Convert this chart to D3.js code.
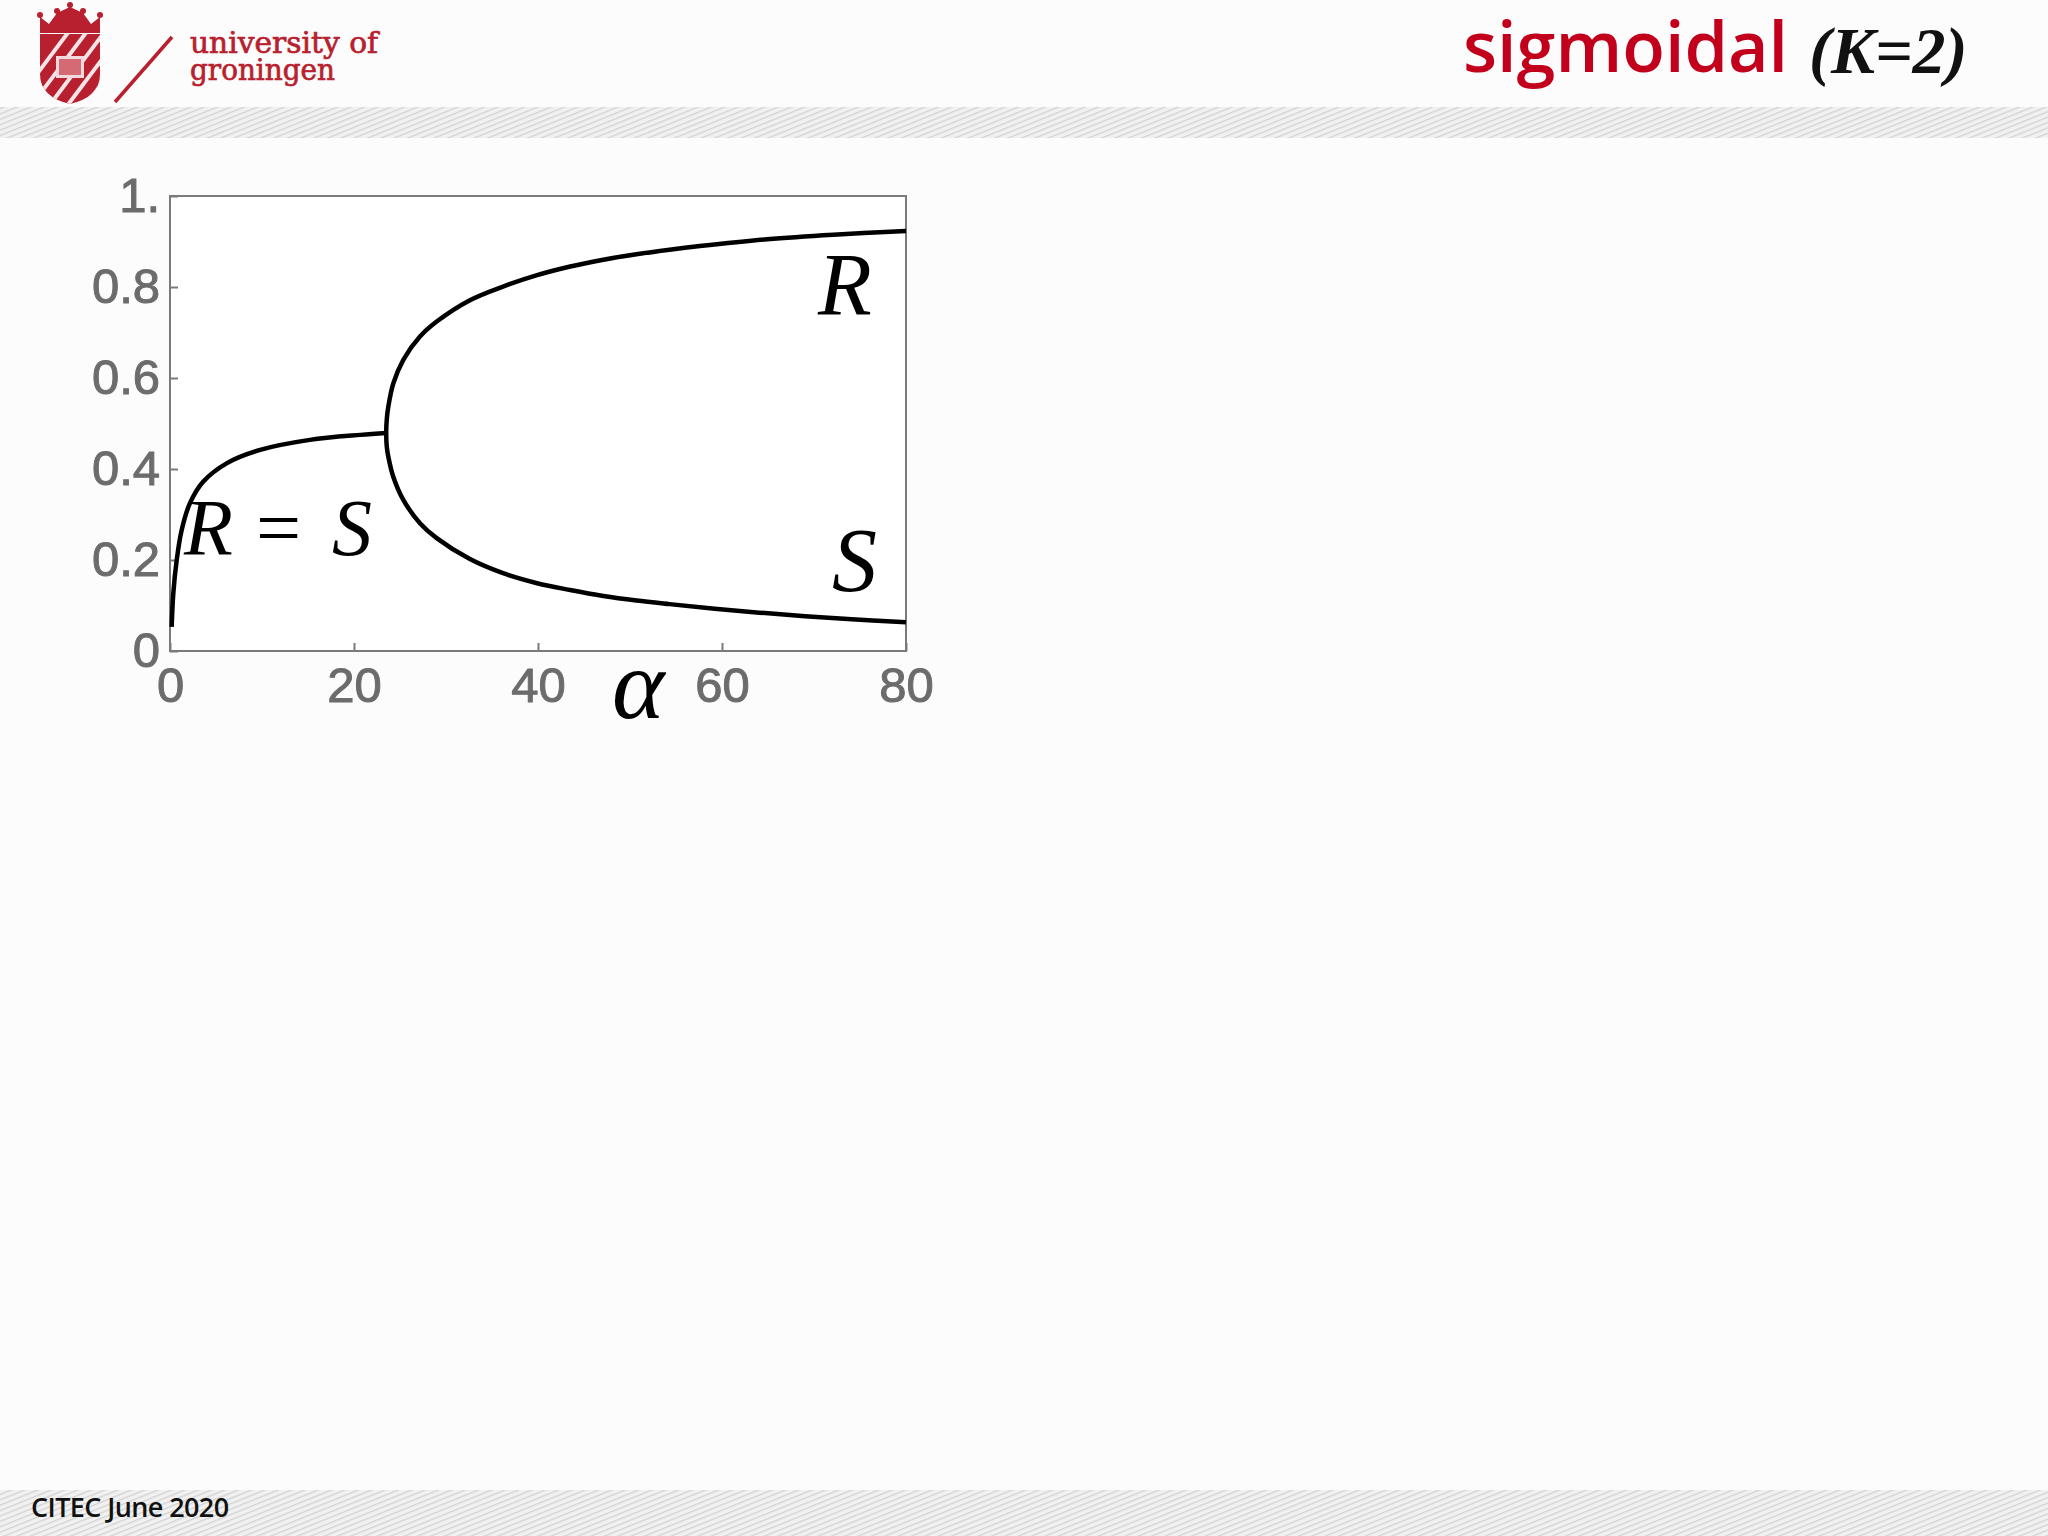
<!DOCTYPE html>
<html><head><meta charset="utf-8">
<script src="https://cdn.jsdelivr.net/npm/d3@7"></script>
<style>html,body{margin:0;padding:0;background:#fdfcfd;} svg{display:block;}</style>
</head><body><svg id="c" width="2048" height="1536"></svg>
<script>
// ---- data ----
const xTicks = [0, 20, 40, 60, 80];
const xTickLabels = ["0", "20", "40", "60", "80"];
const yTicks = [0, 0.2, 0.4, 0.6, 0.8, 1];
const yTickLabels = ["0", "0.2", "0.4", "0.6", "0.8", "1."];

// symmetric branch R = S
const alphaEq = [0.18, 0.36, 0.73, 1.27, 2.17, 3.6, 6.2, 9.8, 15.2, 20.7, 23.5];
const valEq   = [0.053, 0.127, 0.2, 0.266, 0.325, 0.372, 0.413, 0.442, 0.464, 0.475, 0.479];

// upper branch R (starts at the bifurcation point)
const alphaR = [23.5, 23.557, 23.73, 24.27, 25.36, 27.17, 28.99, 32.6, 36.2, 39.9, 43.5, 47.1, 50.7, 54.3, 57.6, 64.9, 72.1, 80];
const valR   = [0.479, 0.508, 0.537, 0.588, 0.640, 0.691, 0.724, 0.771, 0.801, 0.826, 0.845, 0.860, 0.872, 0.882, 0.890, 0.905, 0.915, 0.923];

// lower branch S (starts at the bifurcation point)
const alphaS = [23.5, 23.557, 23.73, 24.27, 25.36, 27.17, 28.99, 32.6, 36.2, 39.9, 43.5, 47.1, 50.7, 54.3, 59.2, 66.7, 74.1, 80];
const valS   = [0.479, 0.450, 0.427, 0.383, 0.332, 0.281, 0.248, 0.202, 0.171, 0.149, 0.134, 0.121, 0.111, 0.103, 0.093, 0.080, 0.070, 0.063];

const svg = d3.select("#c");
const defs = svg.append("defs");

// hatch pattern for header / footer bands
const pat = defs.append("pattern").attr("id", "hatch").attr("width", 5).attr("height", 5)
  .attr("patternUnits", "userSpaceOnUse").attr("patternTransform", "rotate(-22)");
pat.append("rect").attr("width", 5).attr("height", 5).attr("fill", "#f1f1f1");
pat.append("line").attr("x1", 0).attr("y1", 0.5).attr("x2", 5).attr("y2", 0.5)
  .attr("stroke", "#d2d2d2").attr("stroke-width", 1.6);

svg.append("rect").attr("x", 0).attr("y", 0).attr("width", 2048).attr("height", 1536).attr("fill", "#fdfcfd");
svg.append("rect").attr("x", 0).attr("y", 107).attr("width", 2048).attr("height", 31).attr("fill", "url(#hatch)");
svg.append("rect").attr("x", 0).attr("y", 1490).attr("width", 2048).attr("height", 46).attr("fill", "url(#hatch)");

// ---- logo ----
const logoRed = "#b81f2f";
const logo = svg.append("g");
defs.append("clipPath").attr("id", "shieldClip").append("path")
  .attr("d", "M40,34 L100,34 L100,74 Q100,97 70,104 Q40,97 40,74 Z");
logo.append("path").attr("d", "M40,33 L40,17 L49,24 L57,13 L70,7 L83,13 L91,24 L100,17 L100,33 Z").attr("fill", logoRed);
[[40,15],[57,11],[70,5],[83,11],[100,15]].forEach(p =>
  logo.append("circle").attr("cx", p[0]).attr("cy", p[1]).attr("r", 3).attr("fill", logoRed));
logo.append("path").attr("d", "M40,34 L100,34 L100,74 Q100,97 70,104 Q40,97 40,74 Z").attr("fill", logoRed);
const sg = logo.append("g").attr("clip-path", "url(#shieldClip)");
[-30, -12, 6, 24, 42].forEach(o =>
  sg.append("line").attr("x1", 40 + o).attr("y1", 110).attr("x2", 100 + o).attr("y2", 30)
    .attr("stroke", "#f6e4e6").attr("stroke-width", 4));
logo.append("rect").attr("x", 56).attr("y", 56).attr("width", 28).attr("height", 22).attr("fill", "#f3d9dc");
logo.append("rect").attr("x", 59).attr("y", 59).attr("width", 22).attr("height", 16).attr("fill", "#d66a74");
logo.append("line").attr("x1", 115).attr("y1", 102).attr("x2", 172).attr("y2", 37)
  .attr("stroke", logoRed).attr("stroke-width", 3.5);
logo.append("text").attr("x", 190).attr("y", 53).attr("textLength", 188).attr("lengthAdjust", "spacingAndGlyphs")
  .attr("font-family", "DejaVu Serif").attr("font-size", 29).attr("fill", logoRed)
  .attr("stroke", logoRed).attr("stroke-width", 0.7).text("university of");
logo.append("text").attr("x", 190).attr("y", 80).attr("textLength", 145).attr("lengthAdjust", "spacingAndGlyphs")
  .attr("font-family", "DejaVu Serif").attr("font-size", 29).attr("fill", logoRed)
  .attr("stroke", logoRed).attr("stroke-width", 0.7).text("groningen");

// ---- title ----
svg.append("text").attr("x", 1463).attr("y", 72).attr("font-family", "Open Sans").attr("font-weight", 600)
  .attr("font-size", 70).attr("fill", "#c2001b").text("sigmoidal");
svg.append("text").attr("x", 1809).attr("y", 73).attr("font-family", "Liberation Serif")
  .attr("font-style", "italic").attr("font-weight", "bold").attr("font-size", 66).attr("fill", "#111")
  .text("(K=2)");

// ---- footer ----
svg.append("text").attr("x", 31).attr("y", 1517).attr("font-family", "Open Sans").attr("font-weight", 600)
  .attr("font-size", 27).attr("letter-spacing", -0.6).attr("fill", "#111").text("CITEC June 2020");

// ---- chart ----
const x = d3.scaleLinear().domain([0, 80]).range([170, 906]);
const y = d3.scaleLinear().domain([0, 1]).range([651, 196]);

const plot = svg.append("g");
plot.append("rect").attr("x", x(0)).attr("y", y(1)).attr("width", x(80) - x(0)).attr("height", y(0) - y(1))
  .attr("fill", "#ffffff").attr("stroke", "#7a7a7a").attr("stroke-width", 2);

const tickFont = g => g.selectAll("text").attr("font-family", "Liberation Sans").attr("font-size", 49)
  .attr("fill", "#6c6c6c").attr("stroke", "#6c6c6c").attr("stroke-width", 1);

const yAxis = plot.append("g").attr("transform", `translate(${x(0)},0)`)
  .call(d3.axisLeft(y).tickValues(yTicks).tickSizeInner(-8).tickSizeOuter(0).tickPadding(10)
    .tickFormat((d, i) => yTickLabels[i]));
yAxis.select(".domain").remove();
yAxis.selectAll("line").attr("stroke", "#7a7a7a").attr("stroke-width", 2);
yAxis.call(tickFont);

const xAxis = plot.append("g").attr("transform", `translate(0,${y(0)})`)
  .call(d3.axisBottom(x).tickValues(xTicks).tickSizeInner(-8).tickSizeOuter(0).tickPadding(16)
    .tickFormat((d, i) => xTickLabels[i]));
xAxis.select(".domain").remove();
xAxis.selectAll("line").attr("stroke", "#7a7a7a").attr("stroke-width", 2);
xAxis.call(tickFont);

// curves
const eqPts = alphaEq.map((a, i) => [a, valEq[i]]);
const splitPts = alphaS.map((a, i) => [a, valS[i]]).reverse()
  .concat(alphaR.slice(1).map((a, i) => [a, valR[i + 1]]));

const line = d3.line().x(d => x(d[0])).y(d => y(d[1])).curve(d3.curveCatmullRom.alpha(0.5));
plot.append("path").attr("d", line(eqPts)).attr("fill", "none").attr("stroke", "#000").attr("stroke-width", 4.5);
plot.append("path").attr("d", line(splitPts)).attr("fill", "none").attr("stroke", "#000").attr("stroke-width", 4.5);

// labels
const serif = "Liberation Serif";
const rs = svg.append("text").attr("y", 555).attr("font-family", serif).attr("font-size", 80).attr("fill", "#000");
rs.append("tspan").attr("x", 184).attr("font-style", "italic").text("R");
rs.append("tspan").attr("x", 256).text("=");
rs.append("tspan").attr("x", 332).attr("font-style", "italic").text("S");

svg.append("text").attr("x", 818).attr("y", 314).attr("font-family", serif).attr("font-style", "italic")
  .attr("font-size", 88).text("R");
svg.append("text").attr("x", 832).attr("y", 591).attr("font-family", serif).attr("font-style", "italic")
  .attr("font-size", 90).text("S");
svg.append("text").attr("x", 612).attr("y", 718).attr("font-family", serif).attr("font-style", "italic")
  .attr("font-size", 100).text("α");
</script></body></html>
